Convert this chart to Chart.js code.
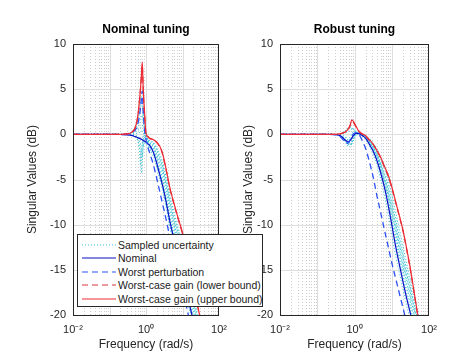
<!DOCTYPE html>
<html><head><meta charset="utf-8">
<script src="https://cdn.jsdelivr.net/npm/chart.js@4/dist/chart.umd.min.js"></script>
<style>
html,body{margin:0;padding:0;background:#fff;width:474px;height:355px;overflow:hidden}
#wrap{position:relative;width:474px;height:355px}
canvas{position:absolute;top:0}
#cL{left:0}
#cR{left:237px}
#legend{position:absolute;left:77px;top:234px;width:186px;height:73px;border:1px solid #262626;background:#fff;box-sizing:border-box;font:10.5px "Liberation Sans",Arial,sans-serif;color:#1a1a1a;z-index:5}
#legend .row{position:absolute;left:0;height:14px;line-height:14px;white-space:nowrap}
#legend svg{position:absolute;left:4px;top:2px}
#legend span{position:absolute;left:40px;top:0}
</style></head>
<body><div id="wrap">
<canvas id="cL" width="237" height="355"></canvas>
<canvas id="cR" width="237" height="355"></canvas>
<div id="legend"></div>
</div>
<script>
// ---------------- data ----------------
const titles = ['Nominal tuning', 'Robust tuning'];
const xTitle = 'Frequency (rad/s)';
const yTitle = 'Singular Values (dB)';
const xTickVals = [0.01, 1, 100];
const xTickLabels = ['10\u207B\u00B2', '10\u2070', '10\u00B2'];
const yTickVals = [-20, -15, -10, -5, 0, 5, 10];
const legendLabels = ['Sampled uncertainty', 'Nominal', 'Worst perturbation', 'Worst-case gain (lower bound)', 'Worst-case gain (upper bound)'];

// Nominal tuning (left) - frequency grid (rad/s)
const freqL = [0.01,0.1,0.2,0.3,0.4,0.5,0.56,0.62,0.67,0.71,0.75,0.79,0.83,0.87,0.93,1.0,1.1,1.25,1.6,2.0,2.7,3.5,4.5,6,7.5,10,13,17,22,28,40,100];
const upperL = [0,0,0,0.05,0.2,0.7,1.4,2.6,4.0,5.2,6.6,8.0,5.6,3.8,1.85,0.1,-0.2,-0.4, -0.6,-0.9,-1.8,-3.7,-5.9,-7.8,-9.2,-10.9,-13.0,-15.2,-17.5,-19.6,-22.7,-30.6];
const lowerL = [0,0,0,0.05,0.2,0.68,1.35,2.5,3.9,5.1,6.5,7.7,5.4,3.6,1.7,0.0,-0.25,-0.45, -0.65,-0.95,-1.9,-3.8,-6.0,-7.9,-9.3,-11.0,-13.1,-15.3,-17.6,-19.7,-22.8,-30.7];
const nomL = [0,0,-0.02,-0.05,-0.12,-0.25,-0.32,-0.4,-0.45,-0.5,-0.55,-0.6,-0.65,-0.7,-0.78,-0.85,-1.0,-1.2, -2.0,-3.3,-5.3,-7.3,-9.6,-11.8,-13.5,-15.6,-17.6,-19.5,-21.4,-23.2,-25.6,-32];
const worstL = [0,0,0,0.05,0.2,0.45,0.8,1.4,2.2,3.0,4.0,4.8,3.0,1.6,0.2,-0.6,-1.3,-2.0, -3.4,-5.0,-7.3,-9.3,-11.4,-13.6,-15.3,-17.3,-19.2,-21.2,-23.1,-24.9,-27.4,-34];
const sampL1 = [0,0,0,0.05,0.2,0.55,1.0,1.7,2.5,3.0,3.4,3.6,2.6,1.5,0.3,-0.3,-0.5,-0.7, -0.9,-1.6,-2.8,-4.6,-6.8,-8.8,-10.4,-12.3,-14.4,-16.5,-18.6,-20.6,-23.4,-31];
const sampL2 = [0,0,0,0.04,0.15,0.4,0.6,0.9,1.2,1.5,1.8,2.1,2.2,1.6,0.6,-0.1,-0.6,-0.9, -1.2,-2.0,-3.4,-5.3,-7.5,-9.6,-11.2,-13.2,-15.2,-17.3,-19.4,-21.3,-24.0,-31];
const sampL3 = [0,0,0,0.03,0.1,0.25,0.35,0.5,0.6,0.7,0.8,0.9,1.0,1.0,0.7,0.1,-0.6,-1.1, -1.5,-2.5,-4.0,-6.0,-8.2,-10.4,-12.0,-14.0,-16.0,-18.0,-20.0,-21.9,-24.5,-31.5];
const sampL4 = [0,0,0,0,-0.05,-0.2,-0.4,-0.8,-1.4,-2.2,-4.3,-3.0,-1.2,-0.4,0.2,0.3,-0.4,-1.2, -1.7,-2.8,-4.6,-6.6,-8.9,-11.1,-12.7,-14.8,-16.8,-18.7,-20.7,-22.5,-25.0,-31.8];
const sampL5 = [0,0,0,0,-0.05,-0.15,-0.3,-0.5,-0.8,-1.1,-1.6,-2.5,-1.8,-0.9,-0.3,-0.3,-0.9,-1.6, -2.4,-3.8,-5.8,-7.9,-10.2,-12.4,-14.1,-16.2,-18.2,-20.1,-22.0,-23.8,-26.2,-32.5];
const sampL6 = [0,0,0,0.05,0.2,0.6,1.1,2.0,3.0,3.8,4.3,3.2,1.8,0.9,0.0,-0.4,-0.6,-0.8, -1.0,-1.8,-3.1,-5.0,-7.2,-9.2,-10.8,-12.8,-14.8,-16.9,-19.0,-21.0,-23.7,-31];
const sampL7 = [0,0,0,0.02,0.05,0.1,0.12,0.15,0.2,0.25,0.3,0.4,0.5,0.45,0.2,-0.2,-0.7,-1.0, -1.4,-2.3,-3.7,-5.6,-7.8,-10.0,-11.6,-13.6,-15.6,-17.7,-19.7,-21.6,-24.2,-31.3];
const sampL8 = [0,0,0,0,-0.05,-0.1,-0.2,-0.3,-0.4,-0.5,-0.6,-0.75,-0.95,-1.2,-1.0,-0.9,-1.2,-1.5, -2.2,-3.5,-5.5,-7.6,-9.9,-12.1,-13.8,-15.9,-17.9,-19.8,-21.7,-23.5,-25.9,-32.2];
const sampL9 = [0,0,0,0,-0.05,-0.25,-0.5,-1.0,-1.9,-3.4,-2.2,-1.0,-0.3,0.1,0.2,0.0,-0.6,-1.3, -1.9,-3.1,-5.0,-7.0,-9.3,-11.5,-13.1,-15.2,-17.2,-19.1,-21.0,-22.8,-25.3,-32];

// Robust tuning (right)
const freqR = [0.01,0.1,0.2,0.3,0.4,0.46,0.52,0.6,0.68,0.76,0.85,0.93,1.0,1.1,1.25,1.45,1.7,2.0,2.5,3.2,4,5,6.3,8,10,13,16,20,25,32,40,50,63,100];
const upperR = [0,0,0,0,0.05,0.12,0.2,0.35,0.6,1.0,1.6,1.45,1.2,0.9,0.45, 0.2,0.0,-0.15,-0.6,-1.1,-1.8,-2.5,-3.5,-4.5,-5.8,-7.6,-9.0,-10.6,-12.6,-15.0,-17.5,-20.0,-22.4,-27];
const lowerR = [0,0,0,0,0.05,0.1,0.18,0.3,0.55,0.95,1.45,1.35,1.1,0.8,0.4, 0.15,-0.05,-0.2,-0.65,-1.15,-1.85,-2.6,-3.6,-4.6,-5.9,-7.7,-9.1,-10.7,-12.7,-15.1,-17.6,-20.1,-22.5,-27.1];
const nomR = [0,0,0,-0.02,-0.12,-0.3,-0.5,-0.75,-0.85,-0.7,-0.4,-0.15,0.0,0.1,0.1, 0.0,-0.2,-0.45,-1.1,-1.9,-2.9,-4.2,-5.8,-7.8,-10.0,-12.6,-14.4,-16.3,-18.1,-19.9,-21.6,-23.4,-25.2,-28.5];
const worstR = [0,0,0,-0.05,-0.2,-0.45,-0.75,-1.0,-0.95,-0.6,-0.2,0.05,0.15,0.2,0.1, -0.3,-0.9,-1.6,-3.0,-4.8,-6.8,-8.6,-10.5,-12.4,-14.2,-16.1,-17.6,-19.2,-20.8,-22.4,-24.0,-25.6,-27.2,-30.5];
const sampR1 = [0,0,0,0,0.05,0.15,0.3,0.5,0.7,0.8,0.75,0.55,0.4,0.25,0.15, 0.1,0.0,-0.15,-0.5,-1.0,-1.6,-2.5,-3.6,-4.9,-6.6,-8.8,-10.5,-12.4,-14.3,-16.2,-17.9,-19.7,-21.5,-25];
const sampR2 = [0,0,0,-0.02,-0.1,-0.25,-0.5,-0.8,-1.1,-1.2,-0.8,-0.3,0.0,0.2,0.15, 0.05,-0.05,-0.25,-0.7,-1.3,-2.0,-3.0,-4.2,-5.6,-7.4,-9.6,-11.3,-13.2,-15.0,-16.9,-18.7,-20.5,-22.3,-25.8];
const sampR3 = [0,0,0,-0.02,-0.15,-0.35,-0.65,-1.0,-1.3,-1.4,-1.0,-0.5,-0.2,0.1,0.1, 0.05,-0.1,-0.3,-0.8,-1.5,-2.3,-3.4,-4.8,-6.4,-8.2,-10.4,-12.2,-14.0,-15.8,-17.6,-19.4,-21.2,-23.0,-26.5];
const sampR4 = [0,0,0,0,0,0.05,0.1,0.2,0.3,0.45,0.6,0.6,0.5,0.3,0.1, 0.0,-0.15,-0.35,-0.9,-1.7,-2.6,-3.8,-5.3,-7.0,-9.0,-11.3,-13.2,-15.0,-16.8,-18.6,-20.4,-22.2,-24.0,-27.3];
const sampR5 = [0,0,0,-0.03,-0.15,-0.35,-0.6,-0.85,-0.9,-0.7,-0.35,-0.1,0.0,0.05,0.0, -0.1,-0.3,-0.6,-1.3,-2.3,-3.4,-4.9,-6.7,-8.8,-11.1,-13.6,-15.3,-17.1,-18.9,-20.7,-22.5,-24.3,-26.1,-29.4];
const sampR6 = [0,0,0,-0.01,-0.05,-0.1,-0.2,-0.4,-0.7,-0.95,-1.0,-0.7,-0.35,-0.05,0.1, 0.05,-0.05,-0.3,-0.75,-1.4,-2.2,-3.2,-4.5,-6.0,-7.8,-10.0,-11.8,-13.6,-15.4,-17.2,-19.0,-20.8,-22.6,-26.1];
const sampR7 = [0,0,0,-0.02,-0.08,-0.2,-0.4,-0.6,-0.6,-0.3,0.1,0.3,0.35,0.3,0.15, 0.0,-0.1,-0.3,-0.85,-1.6,-2.4,-3.6,-5.0,-6.7,-8.6,-10.8,-12.7,-14.5,-16.3,-18.1,-19.9,-21.7,-23.5,-26.9];
const sampR8 = [0,0,0,-0.01,-0.1,-0.25,-0.45,-0.75,-1.0,-1.15,-0.9,-0.55,-0.25,0.0,0.05, 0.0,-0.15,-0.4,-1.0,-1.8,-2.7,-4.0,-5.5,-7.4,-9.5,-11.9,-13.8,-15.7,-17.5,-19.3,-21.1,-22.9,-24.7,-28];

// ---------------- styles ----------------
const C_SAMP = '#3cc4d6', C_NOM = '#0d0dc8', C_WORST = '#2b50f5', C_LOW = '#d8343a', C_UP = '#ee2b35';
const AXC = '#262626';
const FONT = '"Liberation Sans", Arial, sans-serif';

function ds(freq, vals, color, dash, width) {
  return {
    data: freq.map((f, i) => ({x: f, y: vals[i]})),
    borderColor: color, borderDash: dash, borderWidth: width,
    pointRadius: 0, fill: false, cubicInterpolationMode: 'monotone', clip: 0
  };
}

const gridPlugin = {
  id: 'matlabGrid',
  beforeDatasetsDraw(chart) {
    const {ctx, chartArea: a, scales: {x, y}} = chart;
    ctx.save();
    ctx.lineWidth = 1;
    ctx.strokeStyle = '#cdcdcd';
    ctx.setLineDash([1, 2]);
    for (let e = -2; e < 2; e++) {
      for (let m = 2; m <= 9; m++) {
        const px = Math.round(x.getPixelForValue(m * Math.pow(10, e))) + 0.5;
        ctx.beginPath(); ctx.moveTo(px, a.top); ctx.lineTo(px, a.bottom); ctx.stroke();
      }
    }
    ctx.setLineDash([]);
    ctx.strokeStyle = '#dedede';
    for (let e = -1; e <= 1; e++) {
      const px = Math.round(x.getPixelForValue(Math.pow(10, e))) + 0.5;
      ctx.beginPath(); ctx.moveTo(px, a.top); ctx.lineTo(px, a.bottom); ctx.stroke();
    }
    yTickVals.forEach(v => {
      const py = Math.round(y.getPixelForValue(v)) + 0.5;
      ctx.beginPath(); ctx.moveTo(a.left, py); ctx.lineTo(a.right, py); ctx.stroke();
    });
    ctx.restore();
  },
  afterDatasetsDraw(chart) {
    const {ctx, chartArea: a} = chart;
    ctx.save();
    ctx.strokeStyle = AXC; ctx.lineWidth = 1;
    ctx.strokeRect(Math.round(a.left) + 0.5, Math.round(a.top) + 0.5, Math.round(a.right - a.left) - 1, Math.round(a.bottom - a.top));
    ctx.restore();
  }
};

function makeChart(id, title, freq, up, low, nom, worst, samples, yW, padR, yTitlePad) {
  const datasets = [
    ds(freq, up, C_UP, [], 1.2),
    ds(freq, low, C_LOW, [6, 4], 1.2),
    ds(freq, worst, C_WORST, [6, 4], 1.3),
    ds(freq, nom, C_NOM, [], 1.2),
    ...samples.map(s => ds(freq, s, C_SAMP, [1, 2], 1.1))
  ];
  return new Chart(document.getElementById(id), {
    type: 'line',
    data: {datasets},
    plugins: [gridPlugin],
    options: {
      responsive: false, animation: false, devicePixelRatio: 1,
      layout: {padding: {left: 0, right: padR, top: 0, bottom: 0}},
      plugins: {
        legend: {display: false}, tooltip: {enabled: false},
        title: {display: true, text: title, fullSize: false, color: '#000',
          font: {family: FONT, size: 12, weight: 'bold'}, padding: {top: 22, bottom: 7.6}}
      },
      scales: {
        x: {
          type: 'logarithmic', min: 0.01, max: 100,
          grid: {display: false, drawTicks: false}, border: {display: false},
          afterBuildTicks: s => { s.ticks = xTickVals.map(v => ({value: v})); },
          afterFit: s => { s.height = 40; },
          ticks: {autoSkip: false, maxRotation: 0, padding: 8, color: AXC,
            font: {family: FONT, size: 11},
            callback: v => { const i = xTickVals.indexOf(v); return i >= 0 ? xTickLabels[i] : ''; }},
          title: {display: true, text: xTitle, color: AXC, font: {family: FONT, size: 12}, padding: {top: 0, bottom: 3}}
        },
        y: {
          min: -20, max: 10,
          grid: {display: false, drawTicks: false}, border: {display: false},
          afterBuildTicks: s => { s.ticks = yTickVals.map(v => ({value: v})); },
          afterFit: s => { s.width = yW; },
          ticks: {padding: 7, color: AXC, font: {family: FONT, size: 11}},
          title: {display: true, text: yTitle, color: AXC, font: {family: FONT, size: 12}, padding: {top: yTitlePad, bottom: 0}}
        }
      }
    }
  });
}

makeChart('cL', titles[0], freqL, upperL, lowerL, nomL, worstL,
  [sampL1, sampL2, sampL3, sampL4, sampL5, sampL6, sampL7, sampL8, sampL9], 73, 18, 25.8);
makeChart('cR', titles[1], freqR, upperR, lowerR, nomR, worstR,
  [sampR1, sampR2, sampR3, sampR4, sampR5, sampR6, sampR7, sampR8], 43, 45, 4.8);

// ---------------- legend ----------------
const legendStyles = [
  {c: C_SAMP, d: '1 2'}, {c: C_NOM, d: ''}, {c: C_WORST, d: '6 4'}, {c: C_LOW, d: '6 4'}, {c: C_UP, d: ''}
];
const lg = document.getElementById('legend');
legendLabels.forEach((t, i) => {
  const row = document.createElement('div');
  row.className = 'row';
  row.style.top = (2.5 + i * 13.6) + 'px';
  row.style.width = '184px';
  row.innerHTML = '<svg width="34" height="10"><line x1="0" y1="5" x2="34" y2="5" stroke="' + legendStyles[i].c +
    '" stroke-width="1.2" stroke-dasharray="' + legendStyles[i].d + '"/></svg><span></span>';
  row.querySelector('span').textContent = t;
  lg.appendChild(row);
});
</script>
</body></html>
